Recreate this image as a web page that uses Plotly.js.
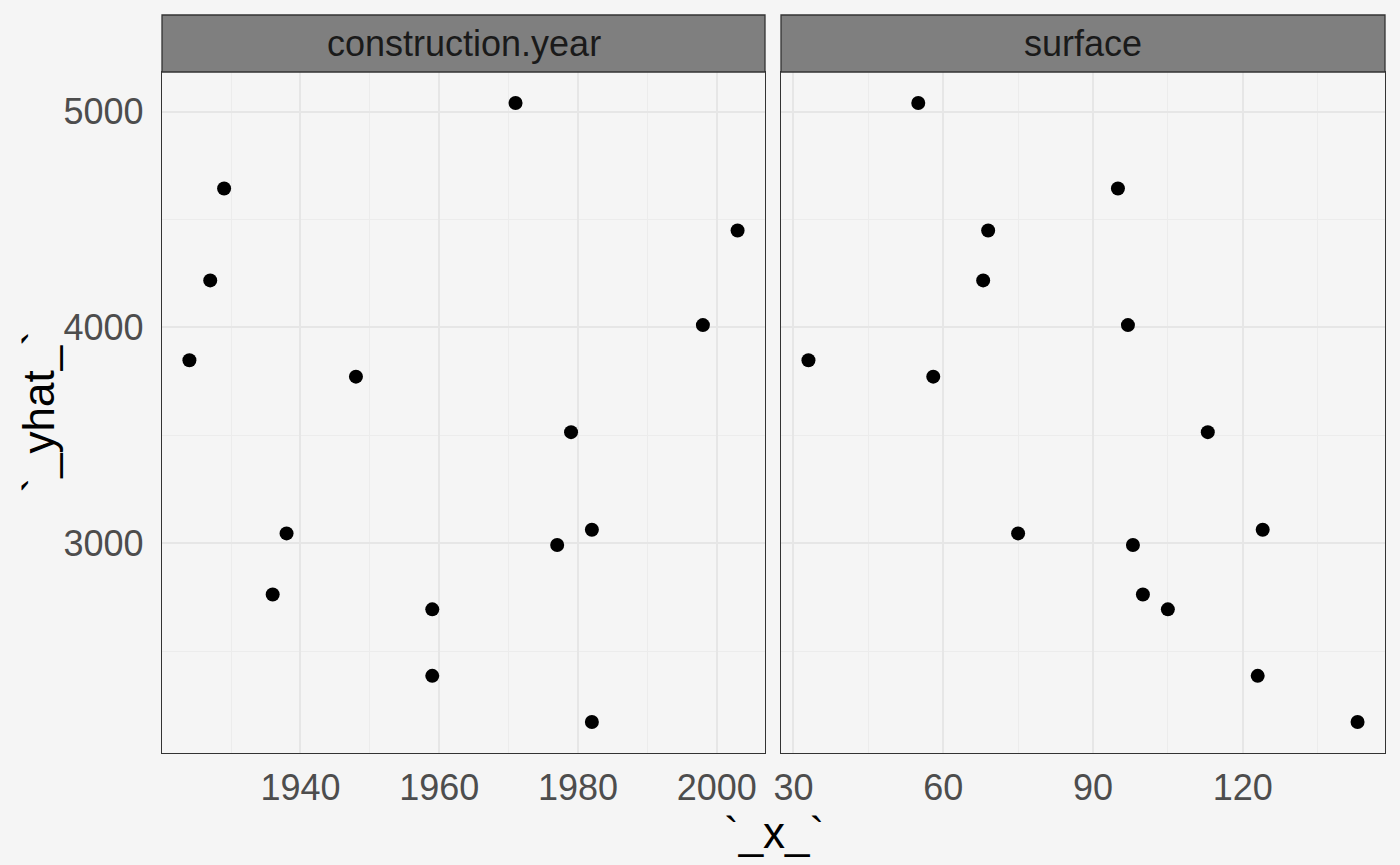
<!DOCTYPE html>
<html>
<head>
<meta charset="utf-8">
<script src="https://cdn.plot.ly/plotly-3.0.1.min.js"></script>
<style>html,body{margin:0;padding:0;background:#f5f5f5;}</style>
</head>
<body>
<div id="chart" style="width:1400px;height:865px;"></div>
<script>
// Data
const panelNames = ["construction.year", "surface"];
const constructionYear = [1924, 1927, 1929, 1936, 1938, 1948, 1959, 1959, 1971, 1977, 1979, 1982, 1982, 1998, 2003];
const surface          = [33,   68,   95,   100,  75,   58,   105,  123,  55,   98,   113,  124,  143,  97,   69];
const yhat             = [3848, 4218, 4644, 2763, 3046, 3772, 2694, 2386, 5040, 2992, 3515, 3063, 2172, 4011, 4449];
const yearTicks = [1940, 1960, 1980, 2000];
const surfaceTicks = [30, 60, 90, 120];
const yTicks = [3000, 4000, 5000];

const W = 1400, H = 865;
const px = v => v / W;
const py = v => 1 - v / H;

function expand(arr) {
  const mn = Math.min(...arr), mx = Math.max(...arr), d = (mx - mn) * 0.05;
  return [mn - d, mx + d];
}

const FONT = "Liberation Sans, Arial, Helvetica, sans-serif";
const marker = {color: "#000000", size: 14};

const traces = [
  {x: constructionYear, y: yhat, type: "scatter", mode: "markers", marker: marker, xaxis: "x", yaxis: "y", hoverinfo: "x+y"},
  {x: surface, y: yhat, type: "scatter", mode: "markers", marker: marker, xaxis: "x2", yaxis: "y2", hoverinfo: "x+y"}
];

const gridMajor = "#e6e6e6";
const gridMinor = "#ececec";
const axisCommon = {
  showgrid: true, gridcolor: gridMajor, gridwidth: 2,
  zeroline: false, showline: true, mirror: true, linecolor: "#333333", linewidth: 1.3,
  ticks: "", tickfont: {family: FONT, size: 36, color: "#4d4d4d"},
  fixedrange: true
};

const panelL = [162, 765], panelR = [781, 1385], panelTop = 72, panelBot = 753, stripTop = 15;
const yDomain = [py(panelBot), py(panelTop)];
const yRange = expand(yhat);

const layout = {
  width: W, height: H, autosize: false,
  paper_bgcolor: "#f5f5f5", plot_bgcolor: "#f5f5f5",
  margin: {l: 0, r: 0, t: 0, b: 0, pad: 0},
  showlegend: false,
  xaxis: Object.assign({}, axisCommon, {
    domain: [px(panelL[0]), px(panelL[1])], anchor: "y",
    range: expand(constructionYear), tickmode: "array", tickvals: yearTicks, ticktext: yearTicks.map(String),
    minor: {tickmode: "linear", tick0: 1930, dtick: 20, showgrid: true, gridcolor: gridMinor, gridwidth: 1, ticks: ""},
    ticklabelstandoff: 2
  }),
  yaxis: Object.assign({}, axisCommon, {
    domain: yDomain, anchor: "x",
    range: yRange, tickmode: "array", tickvals: yTicks, ticktext: yTicks.map(String),
    minor: {tickmode: "linear", tick0: 2500, dtick: 1000, showgrid: true, gridcolor: gridMinor, gridwidth: 1, ticks: ""},
    ticklabelstandoff: 10
  }),
  xaxis2: Object.assign({}, axisCommon, {
    domain: [px(panelR[0]), px(panelR[1])], anchor: "y2",
    range: expand(surface), tickmode: "array", tickvals: surfaceTicks, ticktext: surfaceTicks.map(String),
    minor: {tickmode: "linear", tick0: 45, dtick: 30, showgrid: true, gridcolor: gridMinor, gridwidth: 1, ticks: ""},
    ticklabelstandoff: 2
  }),
  yaxis2: Object.assign({}, axisCommon, {
    domain: yDomain, anchor: "x2",
    range: yRange, tickmode: "array", tickvals: yTicks, showticklabels: false,
    minor: {tickmode: "linear", tick0: 2500, dtick: 1000, showgrid: true, gridcolor: gridMinor, gridwidth: 1, ticks: ""}
  }),
  shapes: [
    {type: "rect", xref: "paper", yref: "paper", x0: px(panelL[0]), x1: px(panelL[1]), y0: py(panelTop), y1: py(stripTop),
     fillcolor: "#7f7f7f", line: {color: "#333333", width: 1.3}, layer: "above"},
    {type: "rect", xref: "paper", yref: "paper", x0: px(panelR[0]), x1: px(panelR[1]), y0: py(panelTop), y1: py(stripTop),
     fillcolor: "#7f7f7f", line: {color: "#333333", width: 1.3}, layer: "above"}
  ],
  annotations: [
    {xref: "paper", yref: "paper", x: px((panelL[0] + panelL[1]) / 2), y: py((stripTop + panelTop) / 2),
     text: panelNames[0], showarrow: false, xanchor: "center", yanchor: "middle",
     font: {family: FONT, size: 36, color: "#1a1a1a"}},
    {xref: "paper", yref: "paper", x: px((panelR[0] + panelR[1]) / 2), y: py((stripTop + panelTop) / 2),
     text: panelNames[1], showarrow: false, xanchor: "center", yanchor: "middle",
     font: {family: FONT, size: 36, color: "#1a1a1a"}},
    {xref: "paper", yref: "paper", x: px((panelL[0] + panelR[1]) / 2), y: py(832),
     text: "`_x_`", showarrow: false, xanchor: "center", yanchor: "middle",
     font: {family: FONT, size: 44, color: "#000000"}},
    {xref: "paper", yref: "paper", x: px(38), y: py((panelTop + panelBot) / 2),
     text: "`_yhat_`", showarrow: false, xanchor: "center", yanchor: "middle", textangle: -90,
     font: {family: FONT, size: 44, color: "#000000"}}
  ]
};

Plotly.newPlot("chart", traces, layout, {displayModeBar: false, staticPlot: true});
</script>
</body>
</html>
